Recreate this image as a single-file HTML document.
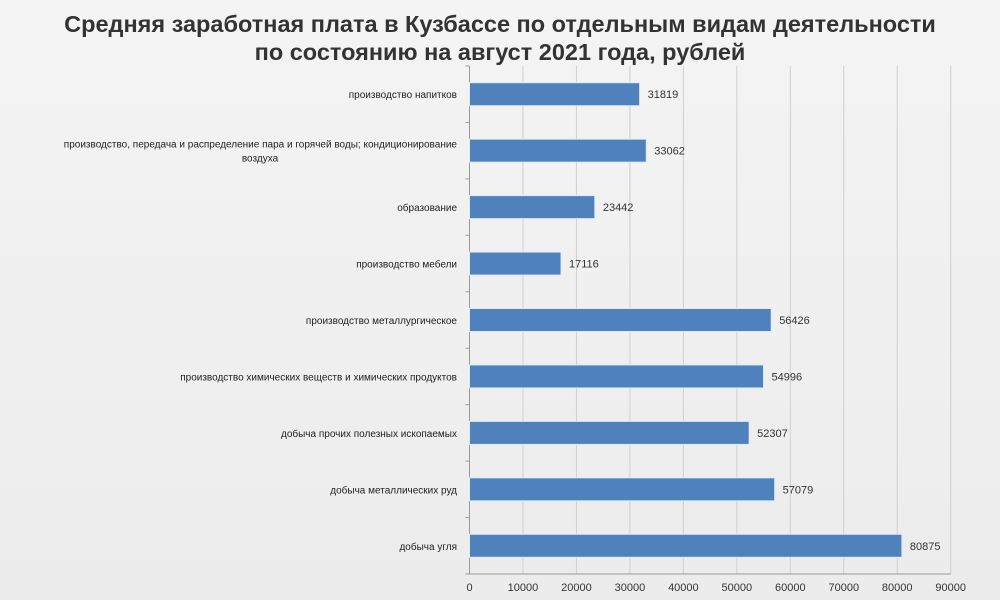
<!DOCTYPE html>
<html><head><meta charset="utf-8"><style>
body{margin:0;width:1000px;height:600px;overflow:hidden;background:linear-gradient(#f4f4f4,#ececec);font-family:"Liberation Sans",sans-serif}
</style></head><body>
<svg width="1000" height="600" style="position:absolute;left:0;top:0">
<text x="500" y="32" text-anchor="middle" font-size="23.5" font-weight="bold" fill="#333">Средняя заработная плата в Кузбассе по отдельным видам деятельности</text>
<text x="500" y="60" text-anchor="middle" font-size="23.5" font-weight="bold" fill="#333">по состоянию на август 2021 года, рублей</text>
<g id="grid"></g><g id="bars"></g><g id="labels"></g>
</svg>
<script>
const categories=[["производство напитков"],["производство, передача и распределение пара и горячей воды; кондиционирование","воздуха"],["образование"],["производство мебели"],["производство металлургическое"],["производство химических веществ и химических продуктов"],["добыча прочих полезных ископаемых"],["добыча металлических руд"],["добыча угля"]];
const values=[31819,33062,23442,17116,56426,54996,52307,57079,80875];
const ticks=[0,10000,20000,30000,40000,50000,60000,70000,80000,90000];
const NS="http://www.w3.org/2000/svg";
const x0=469.5,x1=950.7,plotTop=66,plotBottom=574,maxV=90000;
const band=(plotBottom-plotTop)/categories.length;
const xs=v=>x0+(v/maxV)*(x1-x0);
const ys=i=>plotTop+band*i+band/2;
function mk(t,a,p){const e=document.createElementNS(NS,t);for(const k in a)e.setAttribute(k,a[k]);p.appendChild(e);return e;}
const g=document.getElementById('grid'),b=document.getElementById('bars'),l=document.getElementById('labels');
ticks.forEach(t=>{
const x=xs(t);
const ln=mk('line',{x1:x,x2:x,y1:plotTop,y2:plotBottom,stroke:t===0?'#999':'#cfcfcf','stroke-width':1},g);


const tx=mk('text',{x:x,y:plotBottom+17,'text-anchor':'middle','font-size':11,fill:'#333'},l);
tx.textContent=t;


});
const ax=mk('line',{x1:x0-4,x2:x1,y1:plotBottom,y2:plotBottom,stroke:'#999'},g);


for(let i=0;i<=categories.length;i++){const tk=mk('line',{x1:x0-4,x2:x0,y1:plotTop+band*i,y2:plotTop+band*i,stroke:'#999'},g);

}
values.forEach((v,i)=>{
const y=ys(i);
const r=mk('rect',{x:x0,y:y-11.5,width:xs(v)-x0,height:23,fill:'#4f81bd',stroke:'#dcecf8','stroke-width':1},b);


const vt=mk('text',{x:xs(v)+8,y:y+4,'font-size':11,fill:'#333'},l);
vt.textContent=v;


const lines=categories[i];
lines.forEach((s,j)=>{
const ct=mk('text',{x:lines.length>1&&j>0?260:457,y:y+4+(j-(lines.length-1)/2)*14,'text-anchor':lines.length>1&&j>0?'middle':'end','font-size':10,fill:'#222'},l);
ct.textContent=s;


});
});
</script>
</body></html>
